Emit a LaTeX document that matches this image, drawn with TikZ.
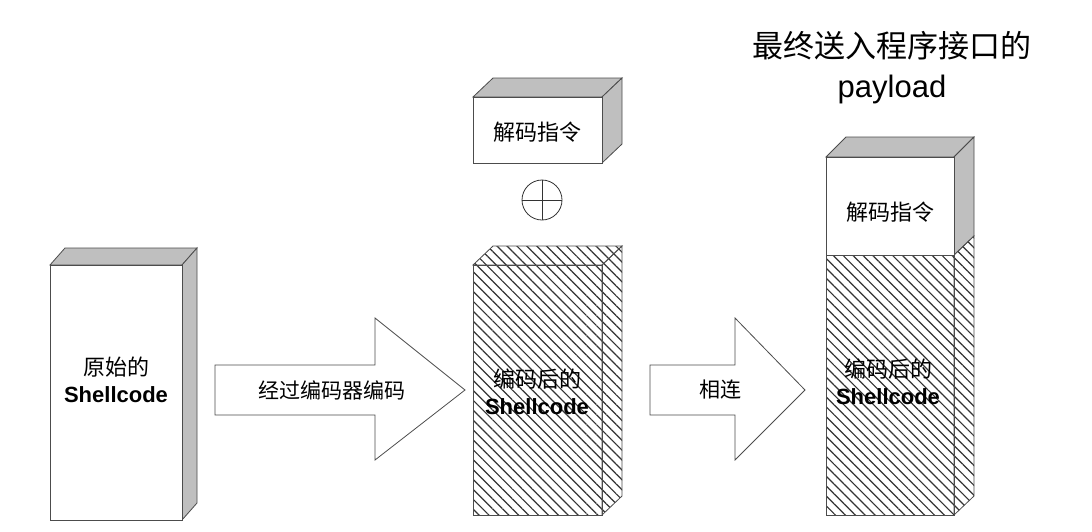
\documentclass[tikz,border=0pt]{standalone}
\usepackage{fontspec}
\setmainfont{Liberation Sans}
\newfontfamily\cjk{Noto Sans CJK SC}
\usetikzlibrary{patterns.meta}
\begin{document}
\begin{tikzpicture}[x=1pt,y=-1pt,
  face/.style={draw=black!70,line width=0.8pt},
  gray/.style={face,fill=black!25},
  hat/.style={face,pattern={Lines[angle=-45,distance=7pt,line width=1.2pt]},pattern color=black!80},
  arr/.style={draw=black!70,line width=0.8pt,fill=white},
  lbl/.style={font=\fontsize{22}{27}\selectfont,align=center,inner sep=0pt}]
\useasboundingbox (0,0) rectangle (1092,531);
% box 1
\draw[gray] (50,265) -- (65,248) -- (197,248) -- (182,265) -- cycle;
\draw[gray] (182,265) -- (197,248) -- (197,503) -- (182,520) -- cycle;
\draw[face,fill=white] (50,265) rectangle (182,520);
\node[lbl] (orig) at (116,380) {{\cjk 原始的}\\\textbf{Shellcode}};
% arrow 1
\draw[arr] (215,365) -- (375,365) -- (375,318) -- (465,390) -- (375,460) -- (375,415) -- (215,415) -- cycle;
\node[lbl,font=\cjk\fontsize{21}{27}\selectfont] (a1) at (332,390) {经过编码器编码};
% hatched box
\draw[hat] (473,265) -- (493,246) -- (622,246) -- (602,265) -- cycle;
\draw[hat] (602,265) -- (622,246) -- (622,496) -- (602,515) -- cycle;
\draw[hat] (473,265) rectangle (602,515);
\node[lbl] (enc) at (537,392) {{\cjk 编码后的}\\\textbf{Shellcode}};
% decode box top
\draw[gray] (473,97) -- (493,78) -- (622,78) -- (602,97) -- cycle;
\draw[gray] (602,97) -- (622,78) -- (622,144) -- (602,163) -- cycle;
\draw[face,fill=white] (473,97) rectangle (602,163);
\node[lbl,font=\cjk\fontsize{22}{27}\selectfont] (dec1) at (537,132) {解码指令};
% xor
\node[draw=black!80,line width=0.8pt,circle,minimum size=40pt,inner sep=0pt] (xor) at (542,200) {};
\draw[black!80,line width=0.8pt] (xor.north) -- (xor.south) (xor.west) -- (xor.east);
% arrow 2
\draw[arr] (650,365) -- (735,365) -- (735,318) -- (805,390) -- (735,460) -- (735,415) -- (650,415) -- cycle;
\node[lbl,font=\cjk\fontsize{21}{27}\selectfont] (a2) at (720,390) {相连};
% right box
\draw[gray] (826,157) -- (846,137) -- (974,137) -- (954,157) -- cycle;
\draw[gray] (954,157) -- (974,137) -- (974,236) -- (954,255) -- cycle;
\draw[hat] (954,255) -- (974,236) -- (974,496) -- (954,515) -- cycle;
\draw[face,fill=white] (826,157) rectangle (954,255);
\draw[hat] (826,255) rectangle (954,515);
\node[lbl,font=\cjk\fontsize{22}{27}\selectfont] (dec2) at (890,212) {解码指令};
\node[lbl] (enc2) at (888,382) {{\cjk 编码后的}\\\textbf{Shellcode}};
% title
\node[lbl,font=\fontsize{31}{40}\selectfont] (title) at (892,68) {{\cjk 最终送入程序接口的}\\payload};
\end{tikzpicture}
\end{document}
